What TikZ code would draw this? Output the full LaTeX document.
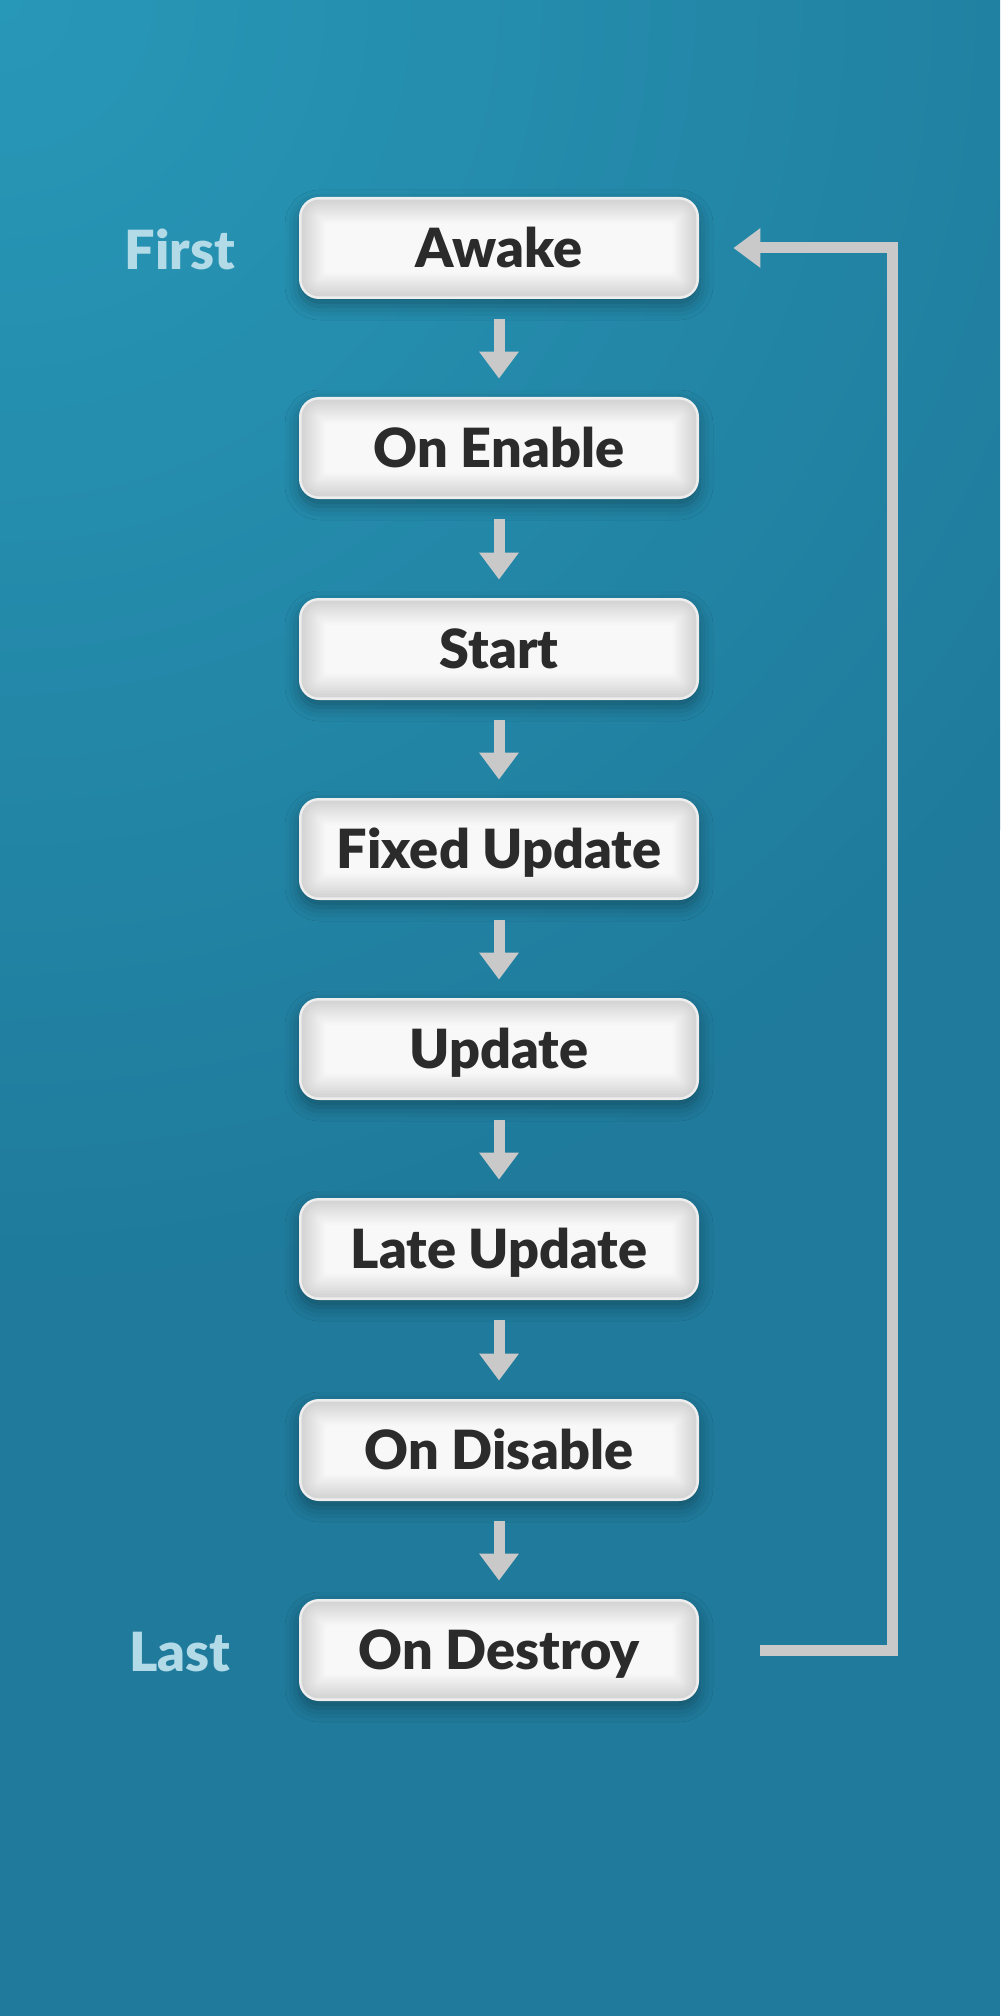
\documentclass[tikz,border=0pt]{standalone}
\usepackage{fontspec}
\setmainfont{Lato}
\newfontfamily\boxfont{Lato Black}
\usetikzlibrary{arrows.meta,shadows.blur}
\definecolor{bgA}{HTML}{2898B8}
\definecolor{bgB}{HTML}{1F7A9B}
\definecolor{boxrim}{HTML}{EEEEEE}
\definecolor{boxedge}{HTML}{D4D4D4}
\definecolor{boxcenter}{HTML}{F8F8F8}
\definecolor{boxtext}{HTML}{2B2B2B}
\definecolor{arrowgray}{HTML}{C9C9C9}
\definecolor{labelblue}{HTML}{B2DBE7}
\pgfdeclareradialshading{bgshade}{\pgfpoint{0bp}{0bp}}{color(0bp)=(bgA); color(25bp)=(bgB); color(50bp)=(bgB)}
\tikzset{
  stagebox/.style={rectangle, rounded corners=10pt, minimum width=200pt, minimum height=51pt,
    inner sep=0pt, fill=boxrim, text=boxtext, text height=19.4pt, text depth=0pt,
    font=\boxfont\fontsize{27}{32}\selectfont,
    blur shadow={shadow xshift=0pt, shadow yshift=-3.5pt, shadow blur radius=7pt, shadow opacity=32},
    path picture={
      \foreach \k in {0,...,16}{
        \pgfmathsetmacro\mixv{\k*100/16}
        \pgfmathsetmacro\ins{1.3+\k*0.75}
        \pgfmathsetmacro\rc{max(10-\ins,1.5)}
        \fill[boxcenter!\mixv!boxedge, rounded corners=\rc pt]
          ([xshift=\ins pt, yshift=-\ins pt]path picture bounding box.north west) rectangle
          ([xshift=-\ins pt, yshift=\ins pt]path picture bounding box.south east);
      }
    }},
  sidelabel/.style={text=labelblue, font=\boxfont\fontsize{27}{32}\selectfont, inner sep=0pt,
    text height=19.4pt, text depth=0pt},
  downarrow/.style={draw=arrowgray, line width=5.5pt, shorten <=10pt, shorten >=9pt,
    -{Triangle[width=19pt,length=13.5pt]}},
  looparrow/.style={draw=arrowgray, line width=5.5pt, line join=miter, shorten <=30.5pt, shorten >=17pt,
    -{Triangle[width=19pt,length=13.5pt]}}
}
\begin{document}
\begin{tikzpicture}[x=0.5pt,y=-0.5pt]
\useasboundingbox (0,0) rectangle (1000,2016);
\begin{scope}
  \clip (0,0) rectangle (1000,2016);
  \fill[bgB] (0,0) rectangle (1000,2016);
  \shade[shading=bgshade] (0,0) circle (1300);
\end{scope}

\node[stagebox] (aw) at (499,248) {Awake};
\node[stagebox] (oe) at (499,448) {On Enable};
\node[stagebox] (st) at (499,649) {Start};
\node[stagebox] (fu) at (499,849) {Fixed Update};
\node[stagebox] (up) at (499,1049) {Update};
\node[stagebox] (lu) at (499,1249) {Late Update};
\node[stagebox] (odi) at (499,1450) {On Disable};
\node[stagebox] (od) at (499,1650) {On Destroy};

\node[sidelabel] (first) at (180,250) {First};
\node[sidelabel] (last) at (180,1652) {Last};

\draw[downarrow] (aw) -- (oe);
\draw[downarrow] (oe) -- (st);
\draw[downarrow] (st) -- (fu);
\draw[downarrow] (fu) -- (up);
\draw[downarrow] (up) -- (lu);
\draw[downarrow] (lu) -- (odi);
\draw[downarrow] (odi) -- (od);

\coordinate (loopx) at (892,0);
\draw[looparrow] (od.east) -- (od.east -| loopx) -- (aw.east -| loopx) -- (aw.east);
\end{tikzpicture}
\end{document}
